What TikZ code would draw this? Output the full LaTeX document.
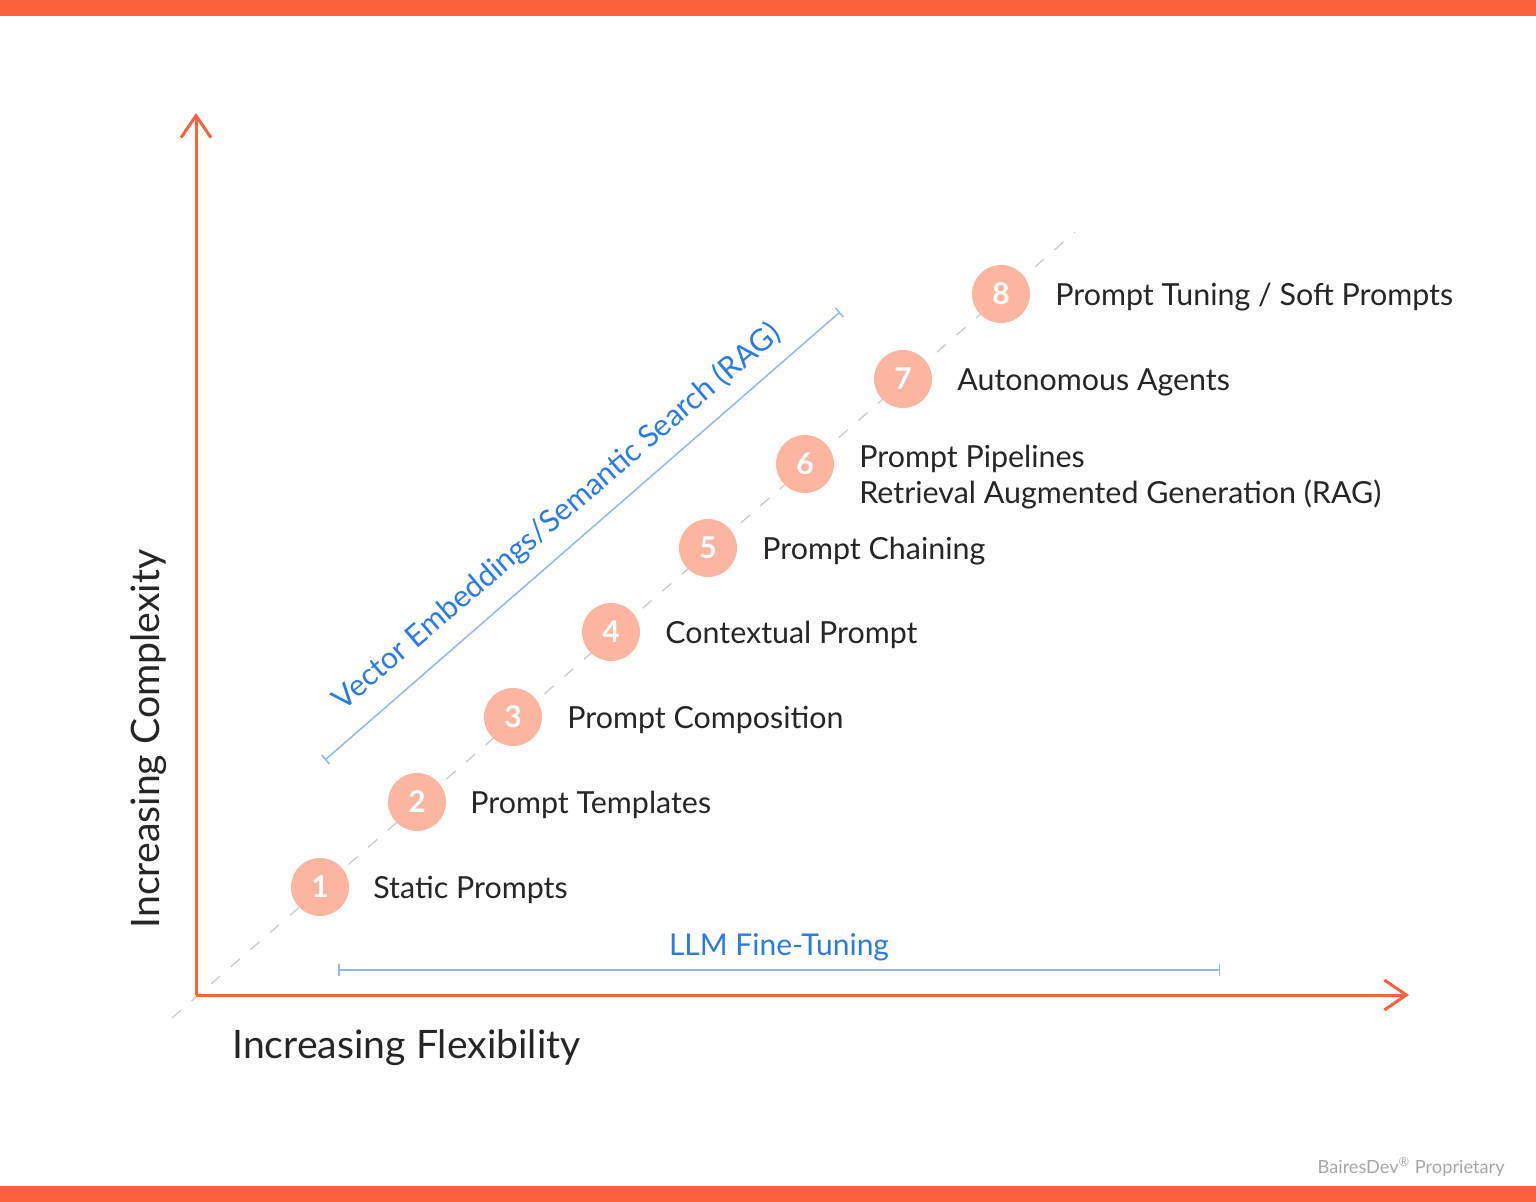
\documentclass[tikz,border=0pt]{standalone}
\usepackage{fontspec}
\setmainfont{Lato}
\usetikzlibrary{arrows.meta}
\definecolor{barorange}{HTML}{F9623A}
\definecolor{dotfill}{HTML}{FBB5A0}
\definecolor{scalelight}{HTML}{8FB8F5}
\definecolor{scaletext}{HTML}{2A7BE6}
\definecolor{guidegray}{HTML}{C8C8C8}
\definecolor{marktext}{HTML}{A8A8A8}
\tikzset{
  dot/.style={circle, fill=dotfill, minimum size=29pt, inner sep=0pt,
    text=white, font=\bfseries\fontsize{15}{16}\selectfont},
  lbl/.style={anchor=west, inner sep=0pt, text=black!85,
    font=\fontsize{15.2}{18}\selectfont, align=left},
  axis/.style={draw=barorange, line width=1.5pt,
    -{Straight Barb[length=11pt, width=15pt, line width=1.5pt]}},
  spanline/.style={draw=scalelight, line width=0.75pt, {Bar[width=6pt]}-{Bar[width=6pt]}},
}
\begin{document}
\begin{tikzpicture}[x=0.5pt,y=-0.5pt]
\useasboundingbox (0,0) rectangle (1536,1202);
\fill[barorange] (0,0) rectangle (1536,16);
\fill[barorange] (0,1186) rectangle (1536,1202);

% guide line
\coordinate (gs) at (172,1018);
\coordinate (ge) at (1075,232);
\path[draw=guidegray,line width=0.6pt,dash pattern=on 6pt off 7pt] (gs) -- (ge);

% axes
\coordinate (o) at (196,995);
\coordinate (ytop) at (196,113);
\coordinate (xend) at (1409,995);
\path[axis] (o) -- (ytop);
\path[axis] (o) -- (xend);
\node[rotate=90, inner sep=0pt, font=\fontsize{19.6}{22}\selectfont, text=black!85] (ylab) at (149,739) {Increasing Complexity};
\node[anchor=west, inner sep=0pt, font=\fontsize{19.6}{22}\selectfont, text=black!85] (xlab) at (232,1048) {Increasing Flexibility};

% spans
\coordinate (fa) at (338,970);
\coordinate (fb) at (1220,970);
\path[spanline] (fa) -- (fb);
\node[inner sep=0pt, text=scaletext, font=\fontsize{15}{16}\selectfont] (ft) at (779,947) {LLM Fine-Tuning};
\coordinate (va) at (325,760);
\coordinate (vb) at (840,312);
\path[spanline] (va) -- (vb);
\node[inner sep=0pt, text=scaletext, rotate=40.5, font=\fontsize{15.2}{16}\selectfont] (vt) at (557,517) {Vector Embeddings/Semantic Search (RAG)};

% steps
\node[dot] (1) at (320,887) {1};
\node[dot] (2) at (417,802) {2};
\node[dot] (3) at (513,717) {3};
\node[dot] (4) at (611,632) {4};
\node[dot] (5) at (708,548) {5};
\node[dot] (6) at (805,464) {6};
\node[dot] (7) at (903,379) {7};
\node[dot] (8) at (1001,294) {8};

\node[lbl] (l1) at (373,890) {Static Prompts};
\node[lbl] (l2) at (470,805) {Prompt Templates};
\node[lbl] (l3) at (567,720) {Prompt Composition};
\node[lbl] (l4) at (665,635) {Contextual Prompt};
\node[lbl] (l5) at (762,551) {Prompt Chaining};
\node[lbl] (l6) at (859,477) {Prompt Pipelines\\Retrieval Augmented Generation (RAG)};
\node[lbl] (l7) at (957,382) {Autonomous Agents};
\node[lbl] (l8) at (1055,297) {Prompt Tuning / Soft Prompts};

\node[anchor=east, inner sep=0pt, text=marktext, font=\fontsize{9.1}{10}\selectfont] (mark) at (1505,1167) {BairesDev\textsuperscript{®} Proprietary};
\end{tikzpicture}
\end{document}
